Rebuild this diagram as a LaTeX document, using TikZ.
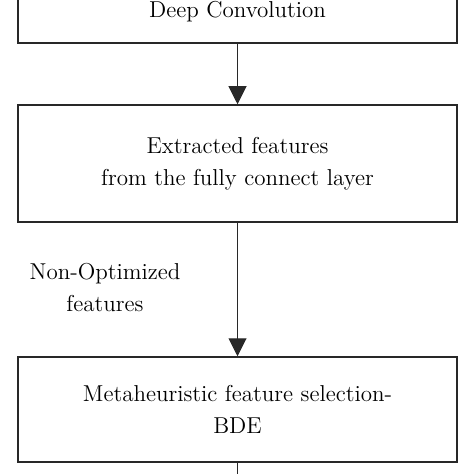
\documentclass[tikz,border=0pt]{standalone}
\usepackage{tikz}
\usetikzlibrary{arrows.meta,positioning}
\definecolor{LineGray}{RGB}{40,40,40}
\tikzset{
	stagebox/.style={draw=LineGray, line width=0.75pt, minimum width=219.5pt, inner sep=0pt, align=center, font=\fontsize{11.5}{16}\selectfont},
	flow/.style={-{Triangle[width=9pt,length=9pt]}, draw=LineGray, line width=0.5pt},
}
\begin{document}
\begin{tikzpicture}[x=0.5pt, y=-0.5pt]
		\useasboundingbox (0,0) rectangle (474,474);
		
		% stages
		\node[stagebox, minimum height=31pt] (conv) at (237.5,12) {Deep Convolution};
		\node[stagebox, minimum height=58.5pt] (feat) at (237.5,163.5) {Extracted features\\from the fully connect layer};
		\node[stagebox, minimum height=52.5pt] (bde) at (237.5,409.5) {Metaheuristic feature selection-\\BDE};
		
		% label beside the second connector
		\node[align=center, font=\fontsize{11.5}{16}\selectfont] (nonopt) at (105,288) {Non-Optimized\\features};
		\coordinate (tail) at (237.5,480);
		
		\draw[flow] (conv) -- (feat);
		\draw[flow] (feat) -- (bde);
		\draw[LineGray, line width=0.5pt] (bde) -- (tail);
		
	\end{tikzpicture}
\end{document}
